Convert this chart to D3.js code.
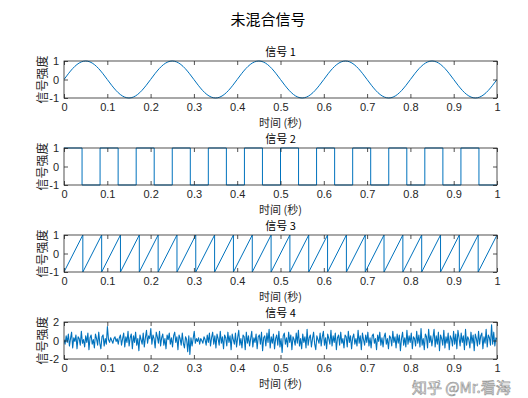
<!DOCTYPE html>
<html><head><meta charset="utf-8">
<script src="https://cdn.jsdelivr.net/npm/d3@7/dist/d3.min.js"></script>
<style>body{margin:0;background:#fff}svg{display:block}</style>
</head><body>
<script>
// ---- data ----
const figTitle = "未混合信号";
const subTitles = ["信号 1", "信号 2", "信号 3", "信号 4"];
const xLabel = "时间 (秒)";
const yLabel = "信号强度";
const xTicks = [0,0.1,0.2,0.3,0.4,0.5,0.6,0.7,0.8,0.9,1];
const yTicks1 = [-1,0,1];
const yTicks4 = [-2,0,2];

// signal 1: sampled every 0.01 s
const sig1 = [0,0.31,0.59,0.81,0.95,1,0.95,0.81,0.59,0.31,0,-0.31,-0.59,-0.81,-0.95,-1,-0.95,-0.81,-0.59,-0.31,
0,0.31,0.59,0.81,0.95,1,0.95,0.81,0.59,0.31,0,-0.31,-0.59,-0.81,-0.95,-1,-0.95,-0.81,-0.59,-0.31,
0,0.31,0.59,0.81,0.95,1,0.95,0.81,0.59,0.31,0,-0.31,-0.59,-0.81,-0.95,-1,-0.95,-0.81,-0.59,-0.31,
0,0.31,0.59,0.81,0.95,1,0.95,0.81,0.59,0.31,0,-0.31,-0.59,-0.81,-0.95,-1,-0.95,-0.81,-0.59,-0.31,
0,0.31,0.59,0.81,0.95,1,0.95,0.81,0.59,0.31,0,-0.31,-0.59,-0.81,-0.95,-1,-0.95,-0.81,-0.59,-0.31,0];

// signal 2: square wave switch times and levels
const sqTimes = [0,0.0417,0.0833,0.125,0.1667,0.2083,0.25,0.2917,0.3333,0.375,0.4167,0.4583,
0.5,0.5417,0.5833,0.625,0.6667,0.7083,0.75,0.7917,0.8333,0.875,0.9167,0.9583];
const sqLevels = [1,-1,1,-1,1,-1,1,-1,1,-1,1,-1,1,-1,1,-1,1,-1,1,-1,1,-1,1,-1];

// signal 3: sawtooth peak times (rise from -1 to 1, then drop)
const sawPeaks = [0.0435,0.0870,0.1304,0.1739,0.2174,0.2609,0.3043,0.3478,0.3913,0.4348,0.4783,
0.5217,0.5652,0.6087,0.6522,0.6957,0.7391,0.7826,0.8261,0.8696,0.9130,0.9565,1];

// signal 4: noise, evenly spaced over 0..1 s
const sig4 = [
0.1,-0.4,0.5,-0.2,0.7,-0.6,0.2,0.9,-0.8,0.3,-0.1,0.6,-0.9,0.4,0.2,-0.5,1.0,-0.3,0.1,-0.7,
0.5,-0.2,0.8,-1.0,0.3,0.6,-0.4,0.1,-0.8,0.7,0.2,-0.5,0.9,-0.3,-0.9,0.4,0.6,-0.6,0.2,-0.4,
1.5,0.1,-0.2,0.3,0.0,-0.3,0.2,0.4,-0.1,0.2,-0.4,0.3,0.6,-0.5,0.2,0.8,-0.7,0.4,-0.2,1.0,
-0.6,0.3,0.7,-0.9,0.5,-0.2,0.9,-0.5,0.2,-1.1,0.6,0.1,-0.4,0.8,-0.7,0.3,1.1,-0.3,0.5,0.2,
1.3,-0.4,0.6,0.2,-0.8,0.9,0.4,-0.3,1.0,-0.6,0.3,0.7,-0.5,0.2,-0.9,0.6,0.1,0.8,-0.4,0.3,
-0.7,0.5,0.9,-0.2,0.4,-1.0,0.6,0.2,-0.5,0.8,-0.3,-0.8,0.4,0.1,-1.2,0.5,-1.5,0.3,-0.6,0.2,
1.0,-0.3,0.2,-0.1,0.3,-0.4,0.2,0.0,-0.3,0.4,0.1,-0.5,0.6,-0.2,0.8,-0.6,0.3,0.9,-0.4,0.5,
-0.8,0.7,0.2,-0.5,1.0,-0.3,0.4,-0.9,0.6,0.3,-0.6,0.9,-0.2,0.5,-1.0,0.7,0.1,-0.4,0.8,-0.7,
0.3,1.1,-0.5,0.2,-0.8,0.6,0.4,-1.0,0.9,-0.3,0.5,-0.6,0.2,1.0,-0.7,0.3,-0.2,0.7,-0.9,0.4,
0.6,-0.4,0.9,-1.1,0.3,0.5,-0.6,0.8,-0.2,1.2,-0.8,0.4,-0.3,0.7,-0.9,0.2,0.6,-0.5,1.0,-0.7,
0.2,-1.3,0.5,0.8,-0.4,0.3,-0.7,0.9,-0.2,0.6,-1.0,0.4,0.1,-0.5,0.8,-0.3,1.1,-0.6,0.2,-0.9,
0.7,-0.2,0.4,-0.8,1.2,-0.5,0.3,0.6,-0.7,0.2,0.9,-0.4,-1.0,0.5,0.1,-0.3,0.8,-0.6,0.4,1.0,
-0.5,0.3,-0.9,0.7,0.2,-0.4,1.1,-0.6,0.5,-0.2,0.8,-1.0,0.3,0.6,-0.5,0.9,-0.3,0.2,-0.8,0.6,
0.4,-0.7,1.0,-0.2,0.5,-0.9,0.3,0.7,-0.4,0.2,-0.6,1.1,-0.3,0.5,-1.0,0.8,0.1,-0.5,0.6,-0.2,
0.9,-0.6,0.3,-0.8,0.5,0.7,-0.3,0.2,-1.0,0.6,-0.1,0.9,-0.5,0.3,-0.7,0.4,0.8,-0.4,0.2,-0.9,
0.5,0.3,-0.6,1.0,-0.2,0.4,-0.8,0.7,-0.3,0.6,-1.1,0.2,0.9,-0.5,0.3,-0.7,1.1,-0.4,0.5,-0.2,
0.8,-0.9,0.4,0.2,-0.6,1.0,-0.3,0.6,-0.7,1.3,-0.5,0.2,-1.0,0.7,0.4,-0.8,1.2,-0.2,0.5,-0.6,
0.3,1.2,-0.7,0.5,-0.4,0.9,-1.1,0.6,0.2,-0.5,1.1,-0.8,0.4,-0.3,0.8,-1.0,0.5,0.2,-0.6,1.0,
-0.4,0.7,-0.9,1.1,0.3,-0.6,0.8,-0.2,0.5,-1.0,1.2,-0.5,0.4,0.1,-0.8,0.9,-0.3,0.6,-1.1,0.7,
0.2,-0.6,1.0,-0.4,0.5,0.8,-0.9,0.4,-0.3,1.2,-0.7,0.6,0.3,-0.5,1.7,-0.4,0.9,-0.6,0.3,0.1];

const watermark = "知乎 @Mr.看海";

// ---- layout ----
const W = 528, H = 398;
const left = 64, right = 497;
const tops = [61, 148, 235, 322], axH = 37;
const color = "#0072BD", axisColor = "#262626";
const numFont = "'Liberation Sans', Arial, sans-serif";
const cjkFont = "'Noto Sans CJK SC', sans-serif";

const svg = d3.select("body").append("svg").attr("width", W).attr("height", H);
svg.append("rect").attr("width", W).attr("height", H).attr("fill", "#fff");

svg.append("text").attr("x", 268).attr("y", 25).attr("text-anchor", "middle")
  .attr("font-family", cjkFont).attr("font-size", 15).attr("fill", "#000").text(figTitle);

const x = d3.scaleLinear().domain([0, 1]).range([left, right]);

// build point sets
const pts1 = sig1.map((v, i) => [i / (sig1.length - 1), v]);
const pts2 = sqTimes.map((t, i) => [t, sqLevels[i]]).concat([[1, sqLevels[sqLevels.length - 1]]]);
const pts3 = [[0, -1]];
sawPeaks.forEach((t, i) => { pts3.push([t, 1]); if (i < sawPeaks.length - 1) pts3.push([t, -1]); });
const pts4 = sig4.map((v, i) => [i / (sig4.length - 1), v]);

const series = [
  { pts: pts1, dom: [-1, 1], ticks: yTicks1, curve: d3.curveMonotoneX, sw: 1 },
  { pts: pts2, dom: [-1, 1], ticks: yTicks1, curve: d3.curveStepAfter, sw: 1 },
  { pts: pts3, dom: [-1, 1], ticks: yTicks1, curve: d3.curveLinear, sw: 1 },
  { pts: pts4, dom: [-2, 2], ticks: yTicks4, curve: d3.curveLinear, sw: 1.1 }
];

series.forEach((s, k) => {
  const top = tops[k], bot = top + axH;
  const y = d3.scaleLinear().domain(s.dom).range([bot, top]);
  const g = svg.append("g");
  const clipId = "clip" + k;
  svg.append("clipPath").attr("id", clipId).append("rect")
    .attr("x", left).attr("y", top - 1).attr("width", right - left).attr("height", axH + 2);

  // line
  g.append("path").datum(s.pts)
    .attr("clip-path", `url(#${clipId})`)
    .attr("fill", "none").attr("stroke", color).attr("stroke-width", s.sw)
    .attr("stroke-linejoin", "round")
    .attr("d", d3.line().x(d => x(d[0])).y(d => y(d[1])).curve(s.curve));

  // axes (inward ticks)
  const fmt = d => String(d);
  const xb = g.append("g").attr("transform", `translate(0,${bot})`)
    .call(d3.axisBottom(x).tickValues(xTicks).tickSize(-4).tickPadding(7).tickFormat(fmt));
  const xt = g.append("g").attr("transform", `translate(0,${top})`)
    .call(d3.axisTop(x).tickValues(xTicks).tickSize(-4).tickFormat(""));
  const yl = g.append("g").attr("transform", `translate(${left},0)`)
    .call(d3.axisLeft(y).tickValues(s.ticks).tickSize(-4).tickPadding(5).tickFormat(fmt));
  const yr = g.append("g").attr("transform", `translate(${right},0)`)
    .call(d3.axisRight(y).tickValues(s.ticks).tickSize(-4).tickFormat(""));
  [xb, xt, yl, yr].forEach(a => {
    a.select(".domain").remove();
    a.selectAll("line").attr("stroke", axisColor).attr("stroke-width", 0.8);
    a.selectAll("text").attr("font-family", numFont).attr("font-size", 11).attr("fill", axisColor);
  });
  xb.selectAll("text").attr("dy", "0.55em");
  g.append("rect").attr("x", left).attr("y", top).attr("width", right - left).attr("height", axH)
    .attr("fill", "none").attr("stroke", axisColor).attr("stroke-width", 0.8);

  // titles/labels
  g.append("text").attr("x", (left + right) / 2).attr("y", top - 5).attr("text-anchor", "middle")
    .attr("font-family", cjkFont).attr("font-size", 11).attr("fill", "#000").text(subTitles[k]);
  g.append("text").attr("x", (left + right) / 2).attr("y", bot + 29).attr("text-anchor", "middle")
    .attr("font-family", cjkFont).attr("font-size", 11).attr("fill", axisColor).text(xLabel);
  g.append("text").attr("transform", `translate(47,${top + axH / 2}) rotate(-90)`)
    .attr("text-anchor", "middle").attr("font-family", cjkFont).attr("font-size", 12)
    .attr("fill", axisColor).text(yLabel);
});

svg.append("text").attr("x", 412).attr("y", 393).attr("font-family", cjkFont).attr("font-size", 15)
  .attr("fill", "rgba(255,255,255,0.85)").attr("stroke", "#9a9a9a").attr("stroke-width", 0.7)
  .text(watermark);
</script>
</body></html>
